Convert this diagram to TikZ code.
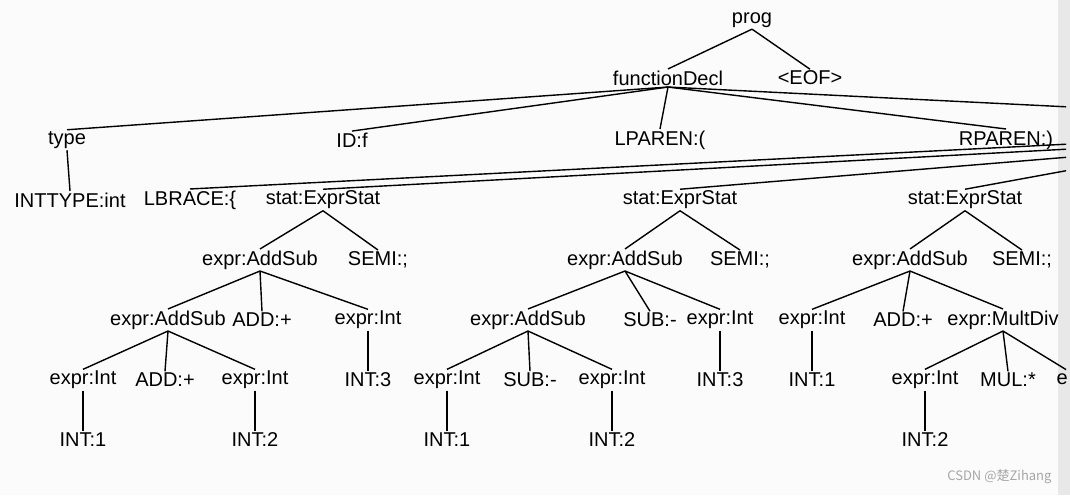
\documentclass[tikz,border=0pt]{standalone}
\usepackage{fontspec}
\setmainfont{Liberation Sans}
\newfontfamily\cjk{Noto Sans CJK SC}
\tikzset{
	tok/.style={inner sep=1.5pt, font=\fontsize{20}{22}\selectfont},
	br/.style={line width=1.4pt}
}
\begin{document}
\begin{tikzpicture}[x=1pt,y=-1pt]
\useasboundingbox (0,0) rectangle (1070,495);
\fill[white!97!gray] (0,0) rectangle (1070,495);
\fill[gray!18] (1058,0) rectangle (1070,495);
\begin{scope}
\clip (0,0) rectangle (1066,495);
% rows
\node[tok] (prog) at (752,20) {prog};
\node[tok] (fdecl) at (668,78) {functionDecl};
\node[tok] (eof) at (810,78) {<EOF>};
\node[tok] (type) at (67,140) {type};
\node[tok] (idf) at (352,140) {ID:f};
\node[tok] (lpar) at (660,140) {LPAREN:(};
\node[tok] (rpar) at (1006,140) {RPAREN:)};
\node[tok] (itype) at (70,200) {INTTYPE:int};
\node[tok] (lbr) at (190,200) {LBRACE:\{};
\node[tok] (statA) at (323,200) {stat:ExprStat};
\node[tok] (statB) at (680,200) {stat:ExprStat};
\node[tok] (statC) at (965,200) {stat:ExprStat};
\node[tok] (asA) at (260,260) {expr:AddSub};
\node[tok] (semiA) at (378,260) {SEMI:;};
\node[tok] (asB) at (625,260) {expr:AddSub};
\node[tok] (semiB) at (740,260) {SEMI:;};
\node[tok] (asC) at (910,260) {expr:AddSub};
\node[tok] (semiC) at (1022,260) {SEMI:;};
\node[tok] (asAa) at (168,320) {expr:AddSub};
\node[tok] (addA) at (262,320) {ADD:+};
\node[tok] (intAc) at (368,320) {expr:Int};
\node[tok] (asBa) at (528,320) {expr:AddSub};
\node[tok] (subB) at (650,320) {SUB:-};
\node[tok] (intBc) at (720,320) {expr:Int};
\node[tok] (intCa) at (812,320) {expr:Int};
\node[tok] (addC) at (903,320) {ADD:+};
\node[tok] (mdC) at (1003,320) {expr:MultDiv};
\node[tok] (intAa) at (83,380) {expr:Int};
\node[tok] (addAa) at (165,380) {ADD:+};
\node[tok] (intAb) at (255,380) {expr:Int};
\node[tok] (int3A) at (368,380) {INT:3};
\node[tok] (intBa) at (447,380) {expr:Int};
\node[tok] (subBa) at (530,380) {SUB:-};
\node[tok] (intBb) at (612,380) {expr:Int};
\node[tok] (int3B) at (720,380) {INT:3};
\node[tok] (int1C) at (812,380) {INT:1};
\node[tok] (intCb) at (925,380) {expr:Int};
\node[tok] (mulC) at (1008,380) {MUL:*};
\node[tok, anchor=west] (intCc) at (1055,380) {expr:Int};
\node[tok] (int1A) at (83,440) {INT:1};
\node[tok] (int2A) at (255,440) {INT:2};
\node[tok] (int1B) at (447,440) {INT:1};
\node[tok] (int2B) at (612,440) {INT:2};
\node[tok] (int2C) at (925,440) {INT:2};
% free ends off the right edge
\coordinate (blk) at (1070,107);
\coordinate (eA) at (1070,144);
\coordinate (eB) at (1070,149);
\coordinate (eC) at (1070,157);
\coordinate (eD) at (1070,170);
\coordinate (eE) at (1070,372);
% edges
\draw[br] (prog.south) -- (fdecl.north);
\draw[br] (prog.south) -- (eof.north);
\foreach \c in {type,idf,lpar,rpar,blk}
	\draw[br] (fdecl.south) -- (\c.north);
\draw[br] (type.south) -- (itype.north);
\draw[br] (lbr.north) -- (eA);
\draw[br] (statA.north) -- (eB);
\draw[br] (statB.north) -- (eC);
\draw[br] (statC.north) -- (eD);
\draw[br] (statA.south) -- (asA.north);
\draw[br] (statA.south) -- (semiA.north);
\draw[br] (statB.south) -- (asB.north);
\draw[br] (statB.south) -- (semiB.north);
\draw[br] (statC.south) -- (asC.north);
\draw[br] (statC.south) -- (semiC.north);
\foreach \c in {asAa,addA,intAc}
	\draw[br] (asA.south) -- (\c.north);
\foreach \c in {asBa,subB,intBc}
	\draw[br] (asB.south) -- (\c.north);
\foreach \c in {intCa,addC,mdC}
	\draw[br] (asC.south) -- (\c.north);
\foreach \c in {intAa,addAa,intAb}
	\draw[br] (asAa.south) -- (\c.north);
\foreach \c in {intBa,subBa,intBb}
	\draw[br] (asBa.south) -- (\c.north);
\draw[br] (intAc.south) -- (int3A.north);
\draw[br] (intBc.south) -- (int3B.north);
\draw[br] (intCa.south) -- (int1C.north);
\draw[br] (mdC.south) -- (intCb.north);
\draw[br] (mdC.south) -- (mulC.north);
\draw[br] (mdC.south) -- (eE);
\draw[br] (intAa.south) -- (int1A.north);
\draw[br] (intAb.south) -- (int2A.north);
\draw[br] (intBa.south) -- (int1B.north);
\draw[br] (intBb.south) -- (int2B.north);
\draw[br] (intCb.south) -- (int2C.north);
\end{scope}
\node[font=\cjk\fontsize{13}{15}\selectfont, text=gray!70, anchor=east] (mark) at (1055,477) {CSDN @楚Zihang};
\end{tikzpicture}
\end{document}
